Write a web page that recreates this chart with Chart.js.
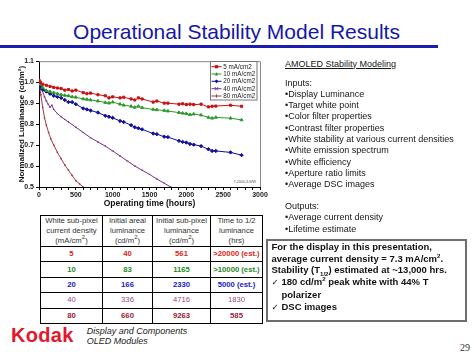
<!DOCTYPE html>
<html><head><meta charset="utf-8">
<script src="https://cdn.jsdelivr.net/npm/chart.js@4.4.0/dist/chart.umd.min.js"></script>
<style>
html,body{margin:0;padding:0;background:#fff;}
body{width:474px;height:355px;position:relative;overflow:hidden;font-family:"Liberation Sans",Arial,sans-serif;color:#111;}
.abs{position:absolute;white-space:nowrap;}
#title{left:0;top:21px;width:473px;text-align:center;font-size:21px;line-height:21px;color:#1616a8;}
#rule{left:0;top:45px;width:438px;height:3px;background:#1c1cb0;}
#chartBox{left:0;top:55px;width:275px;height:160px;}
.rt{font-size:9px;color:#161616;}
#hdr{left:285px;top:58.5px;line-height:11px;text-decoration:underline;}
#inputs{left:285px;top:77.6px;line-height:11.3px;}
#outputs{left:285px;top:201px;line-height:11.3px;}
#box{left:266px;top:239px;width:201px;height:83px;border:2px solid #6e6e6e;box-sizing:border-box;}
#boxText{left:271.5px;top:240.8px;font-size:9.5px;line-height:11.8px;font-weight:bold;color:#111;}
.ck{display:inline-block;width:10px;font-weight:normal;font-family:"DejaVu Sans",sans-serif;font-size:8.5px;}
sup,sub{font-size:6px;line-height:0;}
#tbl{left:40px;top:215px;border-collapse:collapse;table-layout:fixed;width:222px;}
#tbl td{border:1px solid #000;padding:0;text-align:center;overflow:hidden;}
#tbl tr.h td{height:30px;font-size:7.7px;line-height:9.7px;color:#333;}
#tbl tr.d td{height:14.4px;font-size:7.7px;line-height:10px;font-weight:bold;}
#kodak{left:11px;top:324.8px;font-size:20px;line-height:20px;font-weight:bold;color:#e3182d;letter-spacing:0.3px;}
#dac{left:86.7px;top:325.6px;font-size:9px;line-height:10.7px;font-style:italic;color:#222;}
#pg{left:460px;top:343px;font-family:"Liberation Serif",serif;font-size:10px;line-height:10px;color:#333;}
</style></head>
<body>
<div id="title" class="abs">Operational Stability Model Results</div>
<div id="rule" class="abs"></div>
<div id="chartBox" class="abs"><canvas id="c" width="275" height="160"></canvas></div>

<div id="hdr" class="abs rt">AMOLED Stability Modeling</div>
<div id="inputs" class="abs rt">Inputs:<br>•Display Luminance<br>•Target white point<br>•Color filter properties<br>•Contrast filter properties<br>•White stability at various current densities<br>•White emission spectrum<br>•White efficiency<br>•Aperture ratio limits<br>•Average DSC images</div>
<div id="outputs" class="abs rt">Outputs:<br>•Average current density<br>•Lifetime estimate</div>

<div id="box" class="abs"></div>
<div id="boxText" class="abs">For the display in this presentation,<br>average current density = 7.3 mA/cm<sup>2</sup>.<br>Stability (T<sub>1/2</sub>) estimated at ~13,000 hrs.<br><span class="ck">✓</span>180 cd/m<sup>2</sup> peak white with 44% T<br><span class="ck"></span>polarizer<br><span class="ck">✓</span>DSC images</div>

<table id="tbl" class="abs"><colgroup><col style="width:62px"><col style="width:50px"><col style="width:58px"><col style="width:52px"></colgroup><tbody id="tb"></tbody></table>

<div id="kodak" class="abs">Kodak</div>
<div id="dac" class="abs">Display and Components<br>OLED Modules</div>
<div id="pg" class="abs">29</div>

<script>
// ---- chart data ----
const seriesLabels = ['5 mA/cm2','10 mA/cm2','20 mA/cm2','40 mA/cm2','80 mA/cm2'];
const hoursA = [0,20,50,100,150,200,250,300,350,400,450,500,600,650,700,800,900,950,1000,1100,1150,1250,1300,1350,1400,1550,1600,1700,1750,1900,1950,2000,2050,2100,2200,2300,2350,2400,2600,2750];
const lum5  = [1.01,1.0,0.99,0.985,0.98,0.975,0.972,0.97,0.962,0.965,0.958,0.962,0.95,0.945,0.948,0.94,0.935,0.925,0.93,0.925,0.928,0.92,0.915,0.925,0.92,0.905,0.91,0.9,0.9,0.895,0.897,0.893,0.895,0.893,0.895,0.882,0.885,0.886,0.89,0.885];
const lum10 = [1.0,0.99,0.975,0.96,0.955,0.95,0.945,0.94,0.937,0.935,0.93,0.928,0.92,0.918,0.915,0.91,0.903,0.9,0.905,0.895,0.89,0.885,0.88,0.885,0.878,0.87,0.868,0.865,0.862,0.855,0.852,0.85,0.845,0.848,0.843,0.832,0.828,0.832,0.828,0.82];
const lum20 = [0.99,0.975,0.965,0.955,0.945,0.935,0.93,0.925,0.915,0.905,0.905,0.895,0.875,0.87,0.865,0.855,0.84,0.835,0.83,0.815,0.81,0.795,0.785,0.78,0.775,0.755,0.752,0.74,0.738,0.72,0.715,0.712,0.705,0.702,0.695,0.68,0.672,0.672,0.665,0.652];
const hours40 = [0,25,50,75,100,125,150,175,200,250,300,350,400,500,600,700,800,900,1000,1100,1200,1300,1400,1500,1600,1700,1790];
const lum40   = [1.01,0.98,0.955,0.93,0.91,0.895,0.88,0.89,0.87,0.85,0.835,0.822,0.81,0.785,0.76,0.735,0.715,0.695,0.672,0.648,0.624,0.6,0.58,0.56,0.538,0.518,0.5];
const hours80 = [0,10,25,50,75,100,130,160,200,250,300,350,400,450,500,550,600];
const lum80   = [1.01,0.98,0.94,0.88,0.83,0.795,0.76,0.73,0.70,0.665,0.635,0.605,0.58,0.555,0.53,0.515,0.5];
const xTickLabels = [0,500,1000,1500,2000,2500,3000];
const yTickLabels = [0.5,0.6,0.7,0.8,0.9,1.0,1.1];

// ---- table data ----
const currentDensity = ['5','10','20','40','80'];
const arealLum = ['40','83','166','336','660'];
const subpixelLum = ['561','1165','2330','4716','9263'];
const halfLife = ['>20000 (est.)','>10000 (est.)','5000 (est.)','1830','585'];
const rowColors = ['#e01b1b','#1f8a1f','#1a1ac8','#9a4a7c','#991b2e'];
const rowWeights = ['bold','bold','bold','normal','bold'];
const headers = ['White sub-pixel<br>current density<br>(mA/cm<sup>2</sup>)','Initial areal<br>luminance<br>(cd/m<sup>2</sup>)','Initial sub-pixel<br>luminance<br>(cd/m<sup>2</sup>)','Time to 1/2<br>luminance<br>(hrs)'];

const tb = document.getElementById('tb');
let html = '<tr class="h">' + headers.map(h => '<td>' + h + '</td>').join('') + '</tr>';
for (let i = 0; i < currentDensity.length; i++) {
  const st = 'color:' + rowColors[i] + ';font-weight:' + rowWeights[i];
  html += '<tr class="d">' + [currentDensity[i], arealLum[i], subpixelLum[i], halfLife[i]].map(v => '<td style="' + st + '">' + v.replace('>','&gt;') + '</td>').join('') + '</tr>';
}
tb.innerHTML = html;

const colors = ['#cc1010','#2a9a2a','#10109a','#7a2e8a','#a03a45'];
const styles = ['rect','triangle','rectRot','crossRot','cross'];
const radii = [1.5,1.7,1.7,0.8,0.8];
const xs = [hoursA, hoursA, hoursA, hours40, hours80];
const ys = [lum5, lum10, lum20, lum40, lum80];

Chart.defaults.font.family = '"Liberation Sans", Arial, sans-serif';

const datasets = seriesLabels.map((lab, i) => ({
  label: lab,
  data: xs[i].map((x, j) => ({x: x, y: ys[i][j]})),
  borderColor: colors[i],
  backgroundColor: colors[i],
  borderWidth: 1,
  pointStyle: styles[i],
  pointRadius: radii[i],
  pointBorderWidth: 1,
  tension: 0,
  fill: false
}));

const frameLegend = {
  id: 'frameLegend',
  beforeDatasetsDraw(chart) {
    const {ctx, chartArea: a} = chart;
    ctx.save();
    ctx.strokeStyle = '#8a8a8a';
    ctx.lineWidth = 1;
    ctx.beginPath();
    ctx.moveTo(a.left, a.top + 0.5); ctx.lineTo(a.right + 0.5, a.top + 0.5); ctx.lineTo(a.right + 0.5, a.bottom);
    ctx.stroke();
    ctx.restore();
  },
  afterDatasetsDraw(chart) {
    const {ctx} = chart;
    ctx.save();
    ctx.fillStyle = '#fff';
    ctx.fillRect(210, 6.5, 47, 38.5);
    ctx.strokeStyle = '#777';
    ctx.lineWidth = 1;
    ctx.strokeRect(210.5, 6.5, 46.5, 38.5);
    const rowsY = [11.7, 19, 26.3, 33.7, 41];
    ctx.font = '6.3px "Liberation Sans", Arial, sans-serif';
    ctx.textBaseline = 'middle';
    chart.data.datasets.forEach((ds, i) => {
      const y = rowsY[i];
      ctx.strokeStyle = ds.borderColor; ctx.fillStyle = ds.borderColor; ctx.lineWidth = 1;
      ctx.beginPath(); ctx.moveTo(211.5, y); ctx.lineTo(221.5, y); ctx.stroke();
      const cx = 216.5, r = 1.6;
      ctx.beginPath();
      if (ds.pointStyle === 'rect') { ctx.fillRect(cx - r, y - r, 2 * r, 2 * r); }
      else if (ds.pointStyle === 'triangle') { ctx.moveTo(cx, y - r - 0.3); ctx.lineTo(cx + r, y + r); ctx.lineTo(cx - r, y + r); ctx.closePath(); ctx.fill(); }
      else if (ds.pointStyle === 'rectRot') { ctx.moveTo(cx, y - r - 0.3); ctx.lineTo(cx + r + 0.3, y); ctx.lineTo(cx, y + r + 0.3); ctx.lineTo(cx - r - 0.3, y); ctx.closePath(); ctx.fill(); }
      else if (ds.pointStyle === 'crossRot') { ctx.moveTo(cx - r, y - r); ctx.lineTo(cx + r, y + r); ctx.moveTo(cx + r, y - r); ctx.lineTo(cx - r, y + r); ctx.stroke(); }
      else { ctx.moveTo(cx, y - r); ctx.lineTo(cx, y + r); ctx.stroke(); }
      ctx.fillStyle = '#222';
      ctx.fillText(ds.label, 223.3, y + 0.3);
    });
    ctx.font = '3.6px "Liberation Sans", Arial, sans-serif';
    ctx.fillStyle = '#555';
    ctx.textAlign = 'right';
    ctx.fillText('T-2000-3-WW', 256, 127);
    ctx.restore();
  }
};

new Chart(document.getElementById('c'), {
  type: 'line',
  data: {datasets},
  options: {
    responsive: false,
    animation: false,
    devicePixelRatio: 1,
    layout: {padding: {left: 0, right: 15, top: 5, bottom: 0}},
    plugins: {legend: {display: false}, tooltip: {enabled: false}},
    scales: {
      x: {
        type: 'linear', min: 0, max: 3000,
        ticks: {
          stepSize: 100, autoSkip: false, maxRotation: 0, padding: 1,
          font: {size: 7, weight: 'bold'}, color: '#222',
          callback: v => xTickLabels.includes(v) ? String(v) : ''
        },
        grid: {drawOnChartArea: false, drawTicks: true, tickLength: 3, color: '#000'},
        border: {color: '#000', width: 1},
        title: {display: true, text: 'Operating time (hours)', font: {size: 8.5, weight: 'bold'}, color: '#111', padding: {top: 0, bottom: 6}},
        afterFit: s => { s.height = 28; }
      },
      y: {
        type: 'linear', min: 0.5, max: 1.1,
        ticks: {
          stepSize: 0.1, autoSkip: false, padding: 2,
          font: {size: 7, weight: 'bold'}, color: '#222',
          callback: v => { const r = Math.round(v * 10) / 10; return yTickLabels.includes(r) ? r.toFixed(1) : ''; }
        },
        grid: {drawOnChartArea: false, drawTicks: true, tickLength: 3, color: '#000'},
        border: {color: '#000', width: 1},
        title: {display: true, text: 'Normalized Luminance (cd/m²)', font: {size: 8, weight: 'bold'}, color: '#111', padding: {top: 17, bottom: 0}},
        afterFit: s => { s.width = 39; }
      }
    }
  },
  plugins: [frameLegend]
});
</script>
</body></html>
